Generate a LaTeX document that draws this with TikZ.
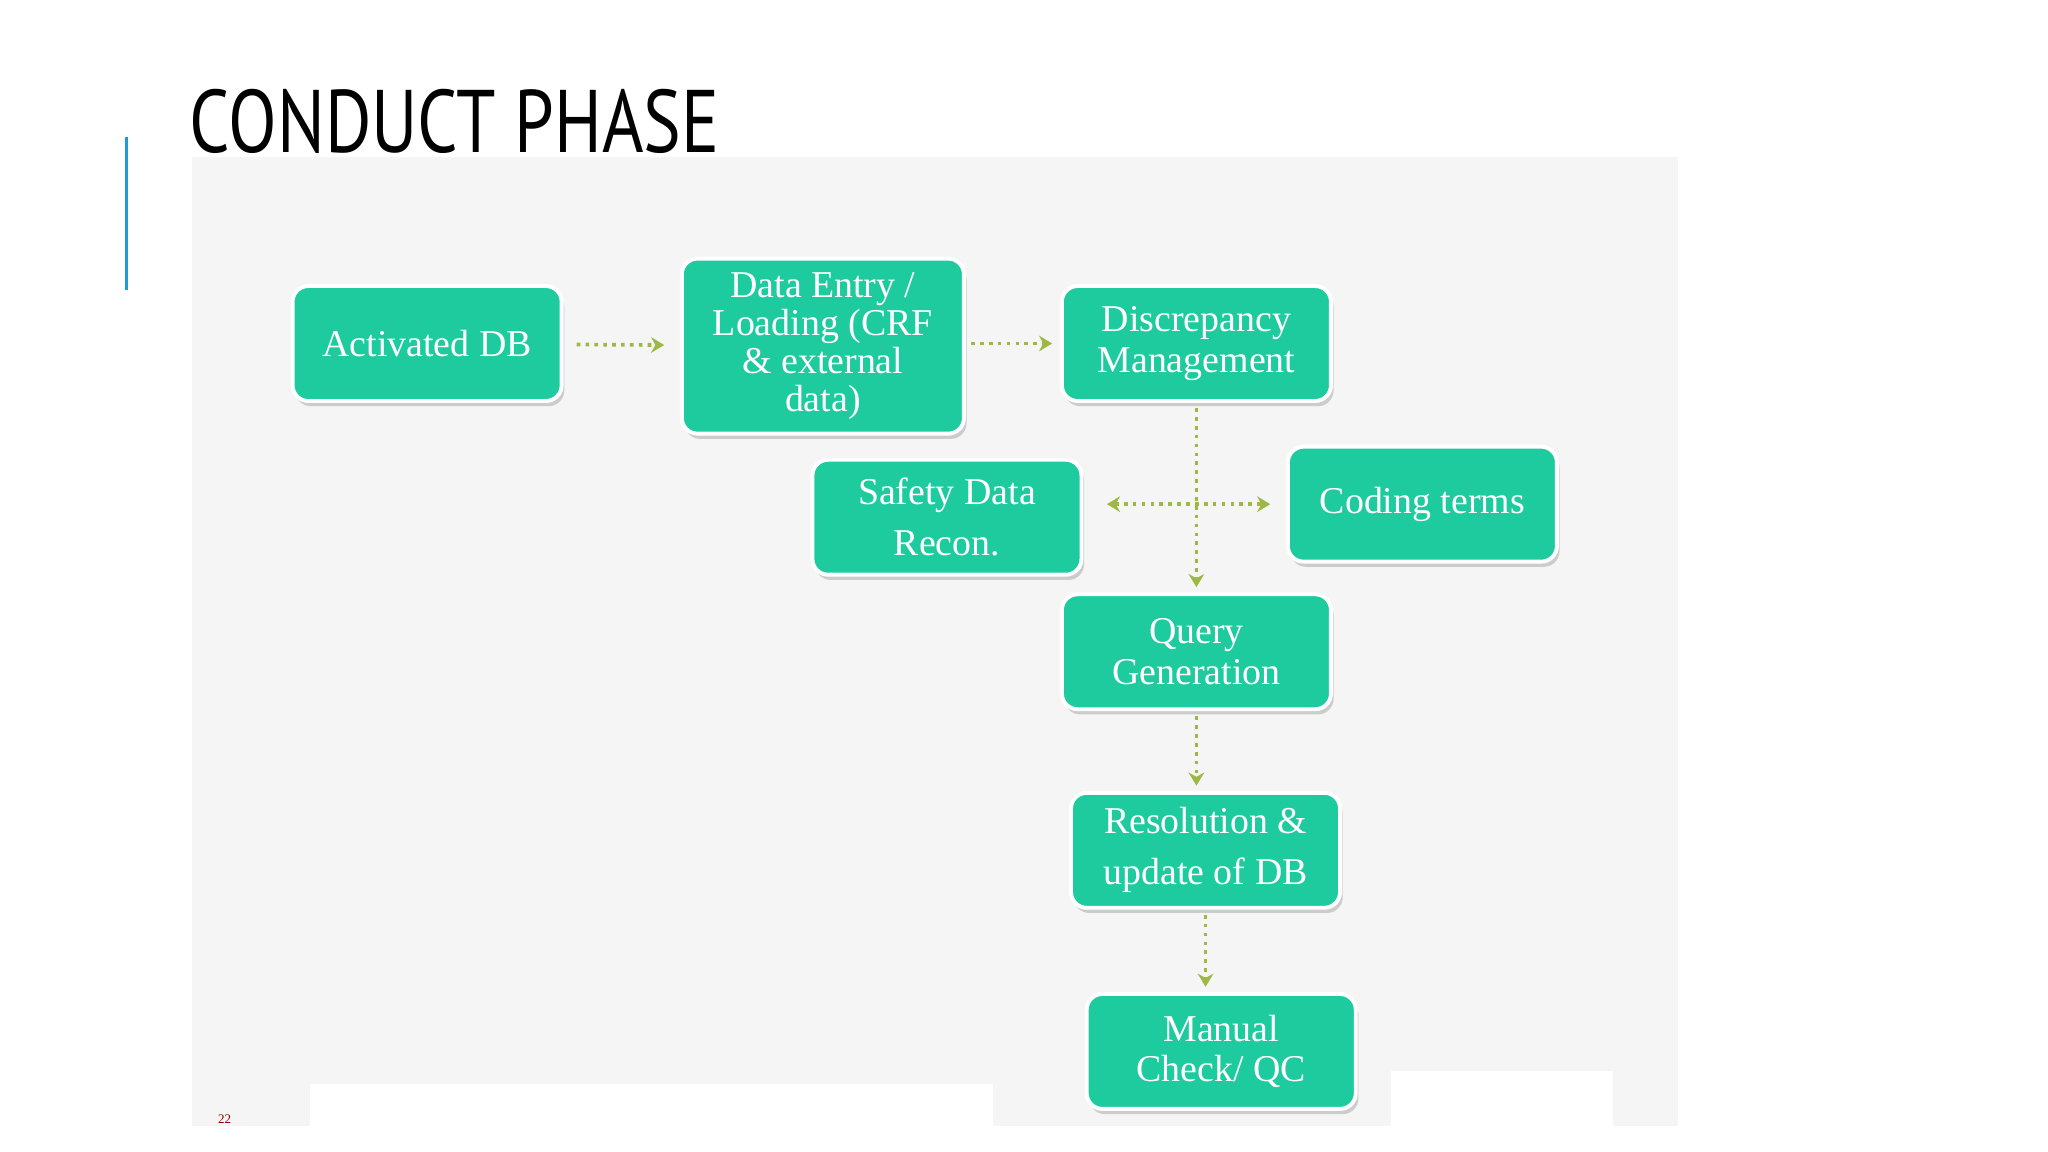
\documentclass[tikz,border=0pt]{standalone}
\usepackage{fontspec}
\setmainfont{Liberation Serif}
\newfontfamily\titlefont{PT Sans}
\usetikzlibrary{arrows.meta,shadows}
\definecolor{teal1}{HTML}{1DCB9E}
\definecolor{arr}{HTML}{9DB845}
\definecolor{panel}{HTML}{F4F5F4}
\definecolor{bluel}{HTML}{1E9BD7}
\tikzset{
  box/.style={draw=white,line width=1.5pt,fill=teal1,rounded corners=6pt,text=white,
    align=center,font=\fontsize{14.5}{17.5}\selectfont,inner sep=2pt,
    drop shadow={shadow xshift=1pt,shadow yshift=-2pt,opacity=0.35}},
  con/.style={draw=arr,line width=1.4pt,dotted,-{Stealth[length=5pt,width=6pt,fill=arr]}},
}
\begin{document}
\begin{tikzpicture}[x=0.5pt,y=-0.5pt]
\useasboundingbox (0,0) rectangle (1568,882);
\fill[white] (0,0) rectangle (1568,882);
\fill[panel] (147,120) rectangle (1285,862);
\fill[white] (237,830) rectangle (760,862);
\fill[white] (1065,820) rectangle (1235,862);
\node[text=red!60!black,font=\tiny] (pg) at (172,857) {22};
\draw[bluel,line width=1.2pt] (97,105) -- (97,222);
\node[anchor=base west,inner sep=0,font=\titlefont\fontsize{34}{34}\selectfont] (title) at (145,117)
  {\scalebox{0.8}[1]{CONDUCT PHASE}};
\node[box,minimum width=103pt,minimum height=44pt] (act) at (327,263) {Activated DB};
\node[box,minimum width=108pt,minimum height=67pt] (dat) at (630,265) {Data Entry /\\[-3pt]Loading (CRF\\[-3pt]\& external\\[-3pt]data)};
\node[box,minimum width=103pt,minimum height=44pt] (dis) at (916,263) {Discrepancy\\[-2pt]Management};
\node[box,minimum width=103pt,minimum height=44pt] (saf) at (725,396) {Safety Data\\[2pt]Recon.};
\node[box,minimum width=103pt,minimum height=44pt] (cod) at (1089,386) {Coding terms};
\node[box,minimum width=103pt,minimum height=44pt] (que) at (916,499) {Query\\[-2pt]Generation};
\node[box,minimum width=103pt,minimum height=44pt] (res) at (923,651) {Resolution \&\\[2pt]update of DB};
\node[box,minimum width=103pt,minimum height=44pt] (man) at (935,805) {Manual\\[-2pt]Check/ QC};
\draw[con,shorten <=5pt,shorten >=6pt] (act) -- (dat);
\draw[con,shorten <=2pt,shorten >=3pt] (dat.east|-act) -- (dis.west);
\draw[con,shorten <=2pt,shorten >=2pt] (dis) -- (que);
\coordinate (mid) at (dis.south|-cod.west);
\draw[con,{Stealth[length=5pt,width=6pt,fill=arr]}-{Stealth[length=5pt,width=6pt,fill=arr]},shorten <=9pt,shorten >=6pt] (saf.east|-mid) -- (cod.west|-mid);
\draw[con,shorten <=2pt,shorten >=2pt] (que.south) -- (que.south|-res.north);
\draw[con,shorten <=2pt,shorten >=2pt] (res.south) -- (res.south|-man.north);
\end{tikzpicture}
\end{document}
